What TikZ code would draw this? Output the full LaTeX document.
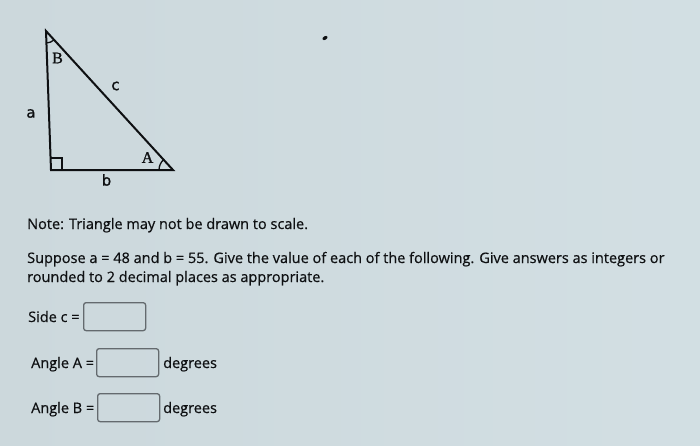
\documentclass[tikz,border=0pt]{standalone}
\usepackage{fontspec}
\setmainfont{Open Sans}[FakeBold=0.6]
\newfontfamily\sidefont{DejaVu Sans}[FakeBold=1.2]
\newfontfamily\vertexfont{Liberation Serif}[FakeBold=1.2]
\usetikzlibrary{positioning,calc}
\definecolor{screen}{RGB}{220,233,238}
\definecolor{screenedge}{RGB}{204,216,220}
\definecolor{ink}{RGB}{14,16,18}
\definecolor{boxline}{RGB}{100,106,110}

\begin{document}
\begin{tikzpicture}[x=1pt,y=-1pt,
    txt/.style={anchor=base west,inner sep=0pt,text=ink,font=\fontsize{14.5}{17}\selectfont},
    answer/.style={draw=boxline,line width=1.3pt,rounded corners=2.5pt,inner sep=0pt,anchor=north west,
                   minimum width=62pt,minimum height=28pt},
    sidelbl/.style={inner sep=0pt,text=ink,font=\sidefont\fontsize{15}{16}\selectfont},
    vertexlbl/.style={inner sep=0pt,text=ink,font=\vertexfont\fontsize{16}{17}\selectfont}]
    % Background
    \shade[left color=screenedge, middle color=screen, right color=screenedge!60!screen]
        (0,0) rectangle (700,445);
    \useasboundingbox (0,0) rectangle (700,445);

    % Triangle
    \coordinate (B) at (46,31);
    \coordinate (C) at (51,170);
    \coordinate (A) at (173,170);
    \draw[ink, line width=2pt, line join=miter] (B) -- (C) -- (A) -- cycle;
    \draw[ink, line width=1.5pt] (51,158) -- (62,158) -- (62,170);
    \draw[ink, line width=1.3pt] ($(A)!14pt!(C)$) arc[start angle=180, end angle=227.4, radius=14];
    \draw[ink, line width=1.3pt] ($(B)!12pt!(A)$) arc[start angle=47.7, end angle=88, radius=12];

    % Labels
    \node[vertexlbl] (lblB) at (57.5,58) {B};
    \node[vertexlbl] (lblA) at (147.5,157.5) {A};
    \node[sidelbl] (lbla) at (31,113.5) {a};
    \node[sidelbl] (lblb) at (106.5,180) {b};
    \node[sidelbl] (lblc) at (115.5,86) {c};

    % Stray dot
    \fill[ink, rotate around={30:(325,38)}] (325,38) ellipse[x radius=2.8, y radius=1.8];

    % Question text
    \node[txt] (note) at (27,229) {Note: Triangle may not be drawn to scale.};
    \node[txt] (line1) at (27,263) {Suppose a = 48 and b = 55. Give the value of each of the following. Give answers as integers or};
    \node[txt] (line2) at (27,282) {rounded to 2 decimal places as appropriate.};

    % Answer fields
    \node[txt] (sidec) at (28,322) {Side c =};
    \node[answer] (boxc) at (83,302) {};
    \node[txt] (angA) at (31,368) {Angle A =};
    \node[answer] (boxA) at (96,348) {};
    \node[txt] (degA) at (163,368) {degrees};
    \node[txt] (angB) at (31,413) {Angle B =};
    \node[answer] (boxB) at (97,393) {};
    \node[txt] (degB) at (163,413) {degrees};
\end{tikzpicture}
\end{document}
